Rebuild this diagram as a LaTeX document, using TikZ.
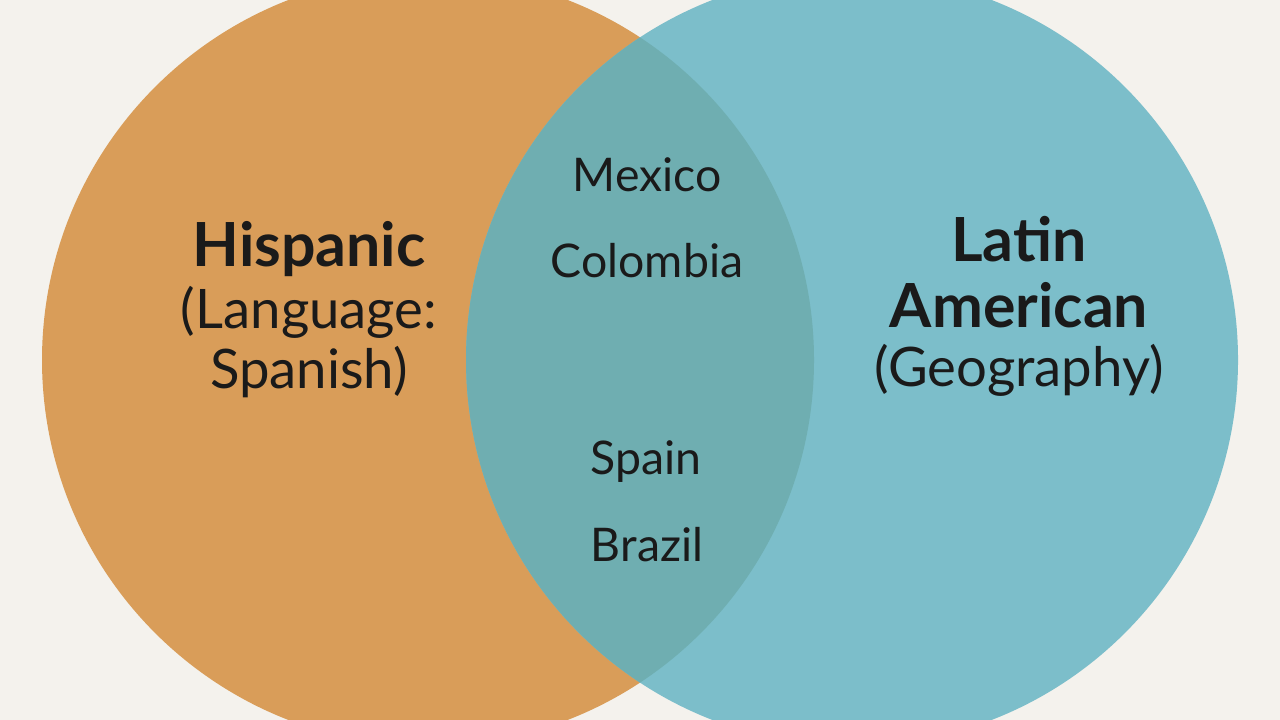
\documentclass[tikz,border=0pt]{standalone}
\usepackage{fontspec}
\setmainfont{Lato}
\usepackage{xcolor}
\usepackage{tikz}
\usetikzlibrary{positioning}

\definecolor{paper}{RGB}{244,242,237}
\definecolor{hispOrange}{RGB}{217,157,89}
\definecolor{latinBlue}{RGB}{124,190,202}
\definecolor{bothTeal}{RGB}{111,174,177}
\definecolor{ink}{RGB}{26,26,26}

\begin{document}
\begin{tikzpicture}[thick,
    set title/.style={anchor=base,text=ink,font=\fontsize{17.3}{19}\selectfont\bfseries},
    set note/.style={anchor=base,text=ink,font=\fontsize{15.5}{18}\selectfont},
    item/.style={anchor=base,text=ink,font=\fontsize{13.2}{16}\selectfont}]

  \useasboundingbox (0,0) rectangle (12.8,7.2);
  \clip (0,0) rectangle (12.8,7.2);
  \fill[paper] (0,0) rectangle (12.8,7.2);

  % the two sets
  \coordinate (L) at (4.28,3.60);
  \coordinate (R) at (8.52,3.60);
  \fill[hispOrange] (L) circle (3.86);
  \fill[latinBlue] (R) circle (3.86);
  \begin{scope}
    \clip (L) circle (3.86);
    \fill[bothTeal] (R) circle (3.86);
  \end{scope}

  % left set
  \node[set title] (hisp) at (3.09,4.53) {Hispanic};
  \node[set note] (lang) at (3.09,3.91) {(Language:};
  \node[set note] (span) at (3.09,3.31) {Spanish)};

  % right set
  \node[set title] (latin) at (10.19,4.58) {Latin};
  \node[set title] (amer) at (10.19,3.92) {American};
  \node[set note] (geo) at (10.19,3.33) {(Geography)};

  % overlap
  \node[item] (mex) at (6.47,5.28) {Mexico};
  \node[item] (col) at (6.47,4.42) {Colombia};
  \node[item] (spa) at (6.46,2.45) {Spain};
  \node[item] (bra) at (6.47,1.58) {Brazil};

\end{tikzpicture}
\end{document}
